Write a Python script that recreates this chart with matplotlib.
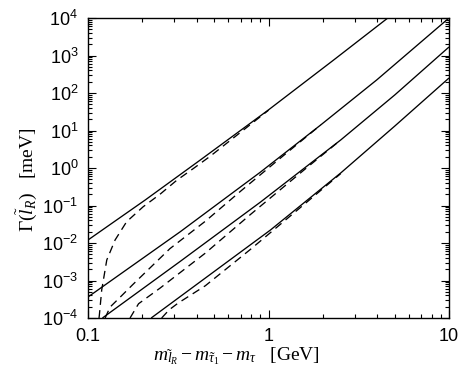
import numpy as np
import matplotlib
matplotlib.use("Agg")
import matplotlib.pyplot as plt
from matplotlib.ticker import LogLocator, FixedLocator, NullFormatter

plt.rcParams['mathtext.fontset'] = 'custom'
plt.rcParams['mathtext.rm'] = 'Liberation Serif'
plt.rcParams['mathtext.it'] = 'Liberation Serif:italic'
plt.rcParams['mathtext.sf'] = 'Liberation Sans'
plt.rcParams['font.family'] = ['Liberation Sans', 'DejaVu Sans']

# Data: log10(mass difference [GeV]), log10(width [meV])
solid1_lx = [-1.0, -0.683, -0.378, 0.0, 0.361, 0.661]
solid1_ly = [-1.92, -0.853, 0.213, 1.55, 2.88, 4.0]
solid2_lx = [-1.0, -0.489, -0.044, 0.289, 0.6, 1.0]
solid2_ly = [-3.44, -1.70, -0.107, 1.147, 2.35, 4.0]
solid3_lx = [-0.92, -0.489, -0.044, 0.4, 0.7, 1.0]
solid3_ly = [-4.0, -2.49, -0.907, 0.747, 1.95, 3.227]
solid4_lx = [-0.65, 0.011, 0.4, 0.7, 1.0]
solid4_ly = [-4.0, -1.653, -0.133, 1.12, 2.4]

dash1_lx = [-0.939, -0.937, -0.924, -0.896, -0.85, -0.786, -0.694, -0.601, -0.509, -0.418, -0.324, -0.2, 0.0]
dash1_ly = [-4.0, -3.92, -3.25, -2.453, -1.92, -1.432, -1.032, -0.70, -0.33, -0.02, 0.31, 0.78, 1.54]
dash2_lx = [-0.905, -0.878, -0.823, -0.75, -0.546, -0.35, -0.15, 0.05, 0.289]
dash2_ly = [-4.0, -3.71, -3.45, -3.1, -2.15, -1.42, -0.6, 0.2, 1.147]
dash3_lx = [-0.767, -0.72, -0.6, -0.35, -0.1, 0.2, 0.4]
dash3_ly = [-4.0, -3.62, -3.2, -2.27, -1.24, -0.04, 0.747]
dash4_lx = [-0.592, -0.55, -0.5, -0.35, -0.1, 0.2, 0.4]
dash4_ly = [-4.0, -3.78, -3.6, -3.14, -2.17, -0.96, -0.15]

xticks = [0.1, 1, 10]
xticklabels = ['0.1', '1', '10']
yexps = list(range(-4, 5))

fig = plt.figure(figsize=(4.74, 3.80), dpi=100)
ax = fig.add_axes([88/474, 62/380, 361/474, 300/380])

def P(lx, ly):
    return 10**np.array(lx), 10**np.array(ly)

for lx, ly in [(solid1_lx, solid1_ly), (solid2_lx, solid2_ly),
               (solid3_lx, solid3_ly), (solid4_lx, solid4_ly)]:
    x, y = P(lx, ly)
    ax.plot(x, y, color='black', lw=0.95, solid_capstyle='butt')

for lx, ly in [(dash1_lx, dash1_ly), (dash2_lx, dash2_ly),
               (dash3_lx, dash3_ly), (dash4_lx, dash4_ly)]:
    x, y = P(lx, ly)
    ax.plot(x, y, color='black', lw=0.95, dashes=(6, 4))

ax.set_xscale('log')
ax.set_yscale('log')
ax.set_xlim(0.1, 10)
ax.set_ylim(1e-4, 1e4)

ax.xaxis.set_major_locator(FixedLocator(xticks))
ax.set_xticklabels(xticklabels)
ax.xaxis.set_minor_locator(LogLocator(base=10, subs=np.arange(2, 10)))
ax.xaxis.set_minor_formatter(NullFormatter())
ax.yaxis.set_major_locator(FixedLocator([10.0**e for e in yexps]))
ax.set_yticklabels([r'$\mathsf{10^{%d}}$' % e for e in yexps])
ax.yaxis.set_minor_locator(LogLocator(base=10, subs=np.arange(2, 10), numticks=20))
ax.yaxis.set_minor_formatter(NullFormatter())

ax.tick_params(which='both', direction='in', top=True, right=True, labelsize=13, width=0.8)
ax.tick_params(which='major', length=6, pad=7)
ax.tick_params(which='minor', length=3)
for s in ax.spines.values():
    s.set_linewidth(1.0)

ax.set_ylabel(r'$\Gamma(\tilde{l}_R)$   [meV]', fontsize=14, family='Liberation Serif')
ax.yaxis.set_label_coords(-0.137, 0.46)
ax.set_xlabel(r'$m_{\tilde{l}_R} - m_{\tilde{\tau}_1} - m_{\tau}$   [GeV]', fontsize=14, family='Liberation Serif')
ax.xaxis.set_label_coords(0.41, -0.09)

fig.savefig('out.png', dpi=100)
